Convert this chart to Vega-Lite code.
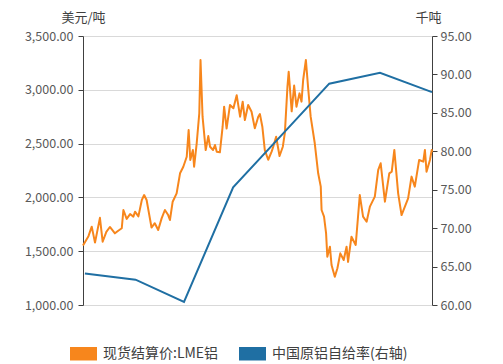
{
  "$schema": "https://vega.github.io/schema/vega-lite/v6.json",
  "width": 349,
  "height": 269,
  "autosize": {"type": "none"},
  "padding": {"left": 83, "top": 36, "right": 71, "bottom": 59},
  "background": "white",
  "config": {
    "font": "Noto Sans CJK SC",
    "view": {"stroke": null},
    "axis": {
      "labelFont": "Noto Sans CJK SC",
      "labelFontSize": 12.5,
      "labelColor": "#595959",
      "domainColor": "#404040",
      "tickColor": "#404040",
      "tickSize": 5,
      "titleFont": "Noto Sans CJK SC",
      "titleFontSize": 13,
      "titleFontWeight": "normal",
      "titleColor": "#404040"
    }
  },
  "datasets": {
    "price": [
      {"date": "2003-12-01", "v": 1553},
      {"date": "2004-01-10", "v": 1640},
      {"date": "2004-02-03", "v": 1728},
      {"date": "2004-02-27", "v": 1580},
      {"date": "2004-04-03", "v": 1810},
      {"date": "2004-04-23", "v": 1588},
      {"date": "2004-05-20", "v": 1680},
      {"date": "2004-06-15", "v": 1725},
      {"date": "2004-07-22", "v": 1666},
      {"date": "2004-08-15", "v": 1690},
      {"date": "2004-09-10", "v": 1713},
      {"date": "2004-09-22", "v": 1883},
      {"date": "2004-10-16", "v": 1800},
      {"date": "2004-11-10", "v": 1845},
      {"date": "2004-12-04", "v": 1821},
      {"date": "2004-12-16", "v": 1867},
      {"date": "2005-01-10", "v": 1824},
      {"date": "2005-02-04", "v": 1976},
      {"date": "2005-02-21", "v": 2022},
      {"date": "2005-03-11", "v": 1976},
      {"date": "2005-03-22", "v": 1898},
      {"date": "2005-04-16", "v": 1720},
      {"date": "2005-05-10", "v": 1760},
      {"date": "2005-06-04", "v": 1697},
      {"date": "2005-06-29", "v": 1805},
      {"date": "2005-07-23", "v": 1883},
      {"date": "2005-08-16", "v": 1836},
      {"date": "2005-08-29", "v": 1790},
      {"date": "2005-09-18", "v": 1960},
      {"date": "2005-10-17", "v": 2038},
      {"date": "2005-11-11", "v": 2224},
      {"date": "2005-12-05", "v": 2285},
      {"date": "2005-12-30", "v": 2378},
      {"date": "2006-01-13", "v": 2626},
      {"date": "2006-01-25", "v": 2348},
      {"date": "2006-02-13", "v": 2441},
      {"date": "2006-02-22", "v": 2285},
      {"date": "2006-03-13", "v": 2503},
      {"date": "2006-04-01", "v": 2782},
      {"date": "2006-04-10", "v": 3277},
      {"date": "2006-04-25", "v": 2750},
      {"date": "2006-05-18", "v": 2440},
      {"date": "2006-06-06", "v": 2570},
      {"date": "2006-06-19", "v": 2471},
      {"date": "2006-07-11", "v": 2441},
      {"date": "2006-07-25", "v": 2487},
      {"date": "2006-08-07", "v": 2425},
      {"date": "2006-08-30", "v": 2420},
      {"date": "2006-09-19", "v": 2657},
      {"date": "2006-09-30", "v": 2843},
      {"date": "2006-10-18", "v": 2640},
      {"date": "2006-11-12", "v": 2859},
      {"date": "2006-12-07", "v": 2828},
      {"date": "2006-12-31", "v": 2950},
      {"date": "2007-01-25", "v": 2750},
      {"date": "2007-02-13", "v": 2890},
      {"date": "2007-03-01", "v": 2719},
      {"date": "2007-03-25", "v": 2859},
      {"date": "2007-04-19", "v": 2796},
      {"date": "2007-05-13", "v": 2642},
      {"date": "2007-06-07", "v": 2750},
      {"date": "2007-06-19", "v": 2775},
      {"date": "2007-07-07", "v": 2657},
      {"date": "2007-07-25", "v": 2440},
      {"date": "2007-08-19", "v": 2350},
      {"date": "2007-09-13", "v": 2425},
      {"date": "2007-09-25", "v": 2471},
      {"date": "2007-10-16", "v": 2564},
      {"date": "2007-11-10", "v": 2385},
      {"date": "2007-12-04", "v": 2471},
      {"date": "2007-12-19", "v": 2600},
      {"date": "2008-01-07", "v": 3029},
      {"date": "2008-01-16", "v": 3168},
      {"date": "2008-02-07", "v": 2800},
      {"date": "2008-02-25", "v": 3040},
      {"date": "2008-03-13", "v": 2843},
      {"date": "2008-04-04", "v": 2967},
      {"date": "2008-04-19", "v": 2890},
      {"date": "2008-05-01", "v": 3091},
      {"date": "2008-05-21", "v": 3277},
      {"date": "2008-06-07", "v": 3010},
      {"date": "2008-06-25", "v": 2750},
      {"date": "2008-07-25", "v": 2503},
      {"date": "2008-08-19", "v": 2224},
      {"date": "2008-09-07", "v": 2100},
      {"date": "2008-09-13", "v": 1883},
      {"date": "2008-10-01", "v": 1821},
      {"date": "2008-10-16", "v": 1666},
      {"date": "2008-10-25", "v": 1449},
      {"date": "2008-11-13", "v": 1542},
      {"date": "2008-11-25", "v": 1372},
      {"date": "2008-12-19", "v": 1263},
      {"date": "2009-01-07", "v": 1341},
      {"date": "2009-01-28", "v": 1480},
      {"date": "2009-02-22", "v": 1418},
      {"date": "2009-03-15", "v": 1542},
      {"date": "2009-03-26", "v": 1400},
      {"date": "2009-04-20", "v": 1635},
      {"date": "2009-05-21", "v": 1558},
      {"date": "2009-06-20", "v": 2022},
      {"date": "2009-07-14", "v": 1821},
      {"date": "2009-08-09", "v": 1774},
      {"date": "2009-09-02", "v": 1914},
      {"date": "2009-10-08", "v": 2007},
      {"date": "2009-11-02", "v": 2255},
      {"date": "2009-11-20", "v": 2317},
      {"date": "2009-12-21", "v": 1960},
      {"date": "2010-01-22", "v": 2224},
      {"date": "2010-02-09", "v": 2239},
      {"date": "2010-02-28", "v": 2441},
      {"date": "2010-03-28", "v": 2038},
      {"date": "2010-04-22", "v": 1836},
      {"date": "2010-06-09", "v": 1991},
      {"date": "2010-07-04", "v": 2193},
      {"date": "2010-07-28", "v": 2100},
      {"date": "2010-08-29", "v": 2348},
      {"date": "2010-09-28", "v": 2332},
      {"date": "2010-10-10", "v": 2441},
      {"date": "2010-10-22", "v": 2239},
      {"date": "2010-11-16", "v": 2348},
      {"date": "2010-11-29", "v": 2441},
      {"date": "2010-12-01", "v": 2420}
    ],
    "rate": [
      {"date": "2003-12-15", "v": 64.1},
      {"date": "2004-12-20", "v": 63.3},
      {"date": "2005-12-10", "v": 60.4},
      {"date": "2006-12-05", "v": 75.3},
      {"date": "2007-11-20", "v": 82.0},
      {"date": "2008-11-08", "v": 88.8},
      {"date": "2009-11-15", "v": 90.2},
      {"date": "2010-12-01", "v": 87.7}
    ]
  },
  "layer": [
    {
      "data": {"name": "price"},
      "mark": {"type": "line", "strokeWidth": 2, "strokeJoin": "round"},
      "encoding": {
        "x": {
          "field": "date", "type": "temporal",
          "scale": {"type": "utc", "domain": [{"year": 2003, "month": 12, "date": 1, "utc": true}, {"year": 2010, "month": 12, "date": 1, "utc": true}]},
          "axis": {
            "title": null, "grid": false, "format": "%Y-%m", "formatType": "utc", "labelPadding": 2,
            "values": [
              {"year": 2003, "month": 12, "date": 1, "utc": true},
              {"year": 2005, "month": 4, "date": 1, "utc": true},
              {"year": 2006, "month": 8, "date": 10, "utc": true},
              {"year": 2008, "month": 1, "date": 1, "utc": true},
              {"year": 2009, "month": 6, "date": 1, "utc": true},
              {"year": 2010, "month": 12, "date": 1, "utc": true}
            ],
            "labelOverlap": false, "labelFlush": false
          }
        },
        "y": {
          "field": "v", "type": "quantitative",
          "scale": {"domain": [1000, 3500], "nice": false, "zero": false},
          "axis": {
            "orient": "left", "values": [1000, 1500, 2000, 2500, 3000, 3500], "format": ",.2f",
            "grid": true, "gridColor": "#d9d9d9", "labelPadding": 5,
            "title": "美元/吨", "titleAngle": 0, "titleX": 0, "titleY": -19,
            "titleAlign": "center", "titleBaseline": "middle"
          }
        },
        "color": {
          "datum": "现货结算价:LME铝", "type": "nominal",
          "scale": {"domain": ["现货结算价:LME铝", "中国原铝自给率(右轴)"], "range": ["#f7861c", "#1f6fa3"]},
          "legend": {
            "title": null, "orient": "none", "legendX": -13, "legendY": 304, "direction": "horizontal",
            "symbolType": "M-1,-0.5H1V0.5H-1Z", "symbolSize": 729, "symbolStrokeWidth": 0,
            "labelFont": "Noto Sans CJK SC", "labelFontSize": 14, "labelColor": "#404040", "labelOffset": 6,
            "columnPadding": 20,
            "encode": {"symbols": {"update": {"fill": {"scale": "color", "field": "value"}, "fillOpacity": {"value": 1}, "strokeWidth": {"value": 0}}}}
          }
        }
      }
    },
    {
      "data": {"name": "rate"},
      "mark": {"type": "line", "strokeWidth": 2},
      "encoding": {
        "x": {"field": "date", "type": "temporal", "axis": null},
        "y": {
          "field": "v", "type": "quantitative",
          "scale": {"domain": [60, 95], "nice": false, "zero": false},
          "axis": {
            "orient": "right", "values": [60, 65, 70, 75, 80, 85, 90, 95], "format": ".2f",
            "grid": false, "labelPadding": 3,
            "title": "千吨", "titleAngle": 0, "titleX": -4, "titleY": -19,
            "titleAlign": "center", "titleBaseline": "middle"
          }
        },
        "color": {"datum": "中国原铝自给率(右轴)", "type": "nominal"}
      }
    }
  ],
  "resolve": {"scale": {"y": "independent"}}
}
